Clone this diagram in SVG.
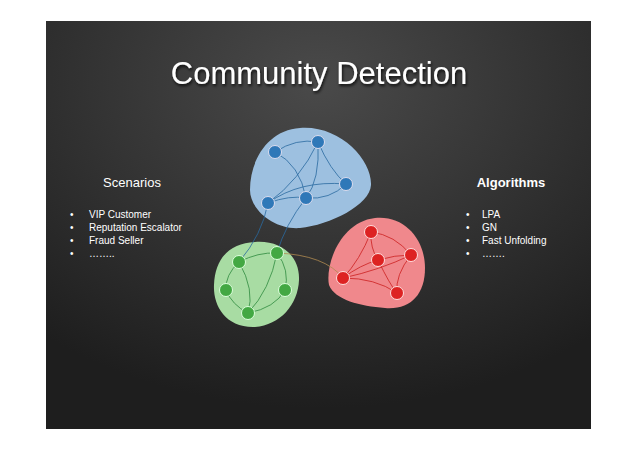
<svg xmlns="http://www.w3.org/2000/svg" width="638" height="451" viewBox="0 0 638 451">
<defs>
<radialGradient id="bg" cx="0.5" cy="0.15" r="0.8">
<stop offset="0" stop-color="#4a4a4a"/><stop offset="1" stop-color="#1e1e1e"/>
</radialGradient>
<filter id="sh"><feDropShadow dx="1" dy="2" stdDeviation="1.5" flood-color="#000" flood-opacity="0.8"/></filter>
</defs>
<style>
text{font-family:"Liberation Sans",Arial,sans-serif;fill:#fff}
.li{font-size:10px}
.b circle{fill:#2f78b8;stroke:#dde;stroke-width:1}
.g circle{fill:#43a843;stroke:#dfd;stroke-width:1}
.r circle{fill:#dd2222;stroke:#fdd;stroke-width:1}
#edges path{fill:none;stroke-width:0.8}
.eb{stroke:#2a6aa0}.eg{stroke:#2f8a3f}.er{stroke:#cc2020}
</style>
<rect width="638" height="451" fill="#fff"/>
<rect x="46" y="21" width="545" height="408" fill="url(#bg)"/>
<text x="319" y="84" font-size="31" text-anchor="middle" filter="url(#sh)">Community Detection</text>
<g id="scenarios">
<text x="132" y="187" font-size="13" text-anchor="middle">Scenarios</text>
<text class="li" x="70" y="218">•</text><text class="li" x="89" y="218">VIP Customer</text>
<text class="li" x="70" y="231">•</text><text class="li" x="89" y="231">Reputation Escalator</text>
<text class="li" x="70" y="244">•</text><text class="li" x="89" y="244">Fraud Seller</text>
<text class="li" x="70" y="257">•</text><text class="li" x="89" y="257">……..</text>
</g>
<g id="algorithms">
<text x="511" y="187" font-size="13" font-weight="bold" text-anchor="middle">Algorithms</text>
<text class="li" x="466" y="218">•</text><text class="li" x="482" y="218">LPA</text>
<text class="li" x="466" y="231">•</text><text class="li" x="482" y="231">GN</text>
<text class="li" x="466" y="244">•</text><text class="li" x="482" y="244">Fast Unfolding</text>
<text class="li" x="466" y="257">•</text><text class="li" x="482" y="257">…….</text>
</g>
<g id="blobs">
<path d="M300,128 C340,125 372,160 371,185 C370,205 330,225 300,228 C275,230 250,210 250,190 C250,160 268,130 300,128 Z" fill="#9dc0e0"/>
<path d="M255,242 C280,240 300,255 299,280 C298,305 280,325 255,327 C225,328 213,305 214,285 C215,258 230,243 255,242 Z" fill="#a8dca3"/>
<path d="M375,218 C405,215 425,240 425,268 C425,295 410,310 385,308 C360,306 335,300 329,285 C325,265 340,222 375,218 Z" fill="#f0888c"/>
</g>
<g id="edges">
<path class="eb" d="M275,152 Q296,138 318,142"/>
<path class="eb" d="M275,152 Q300,165 306,198"/>
<path class="eb" d="M318,142 Q300,180 268,203"/>
<path class="eb" d="M318,142 Q320,180 306,198"/>
<path class="eb" d="M318,142 Q330,170 346,184"/>
<path class="eb" d="M346,184 Q300,180 268,203"/>
<path class="eb" d="M346,184 Q330,200 306,198"/>
<path class="eb" d="M268,203 Q290,195 306,198"/>
<path class="eb" d="M268,203 Q262,235 239,262"/>
<path class="eb" d="M306,198 Q285,225 277,253"/>
<path class="eg" d="M239,262 Q258,252 277,253"/>
<path class="eg" d="M239,262 Q225,275 226,290"/>
<path class="eg" d="M239,262 Q255,290 248,313"/>
<path class="eg" d="M277,253 Q270,290 248,313"/>
<path class="eg" d="M277,253 Q290,270 285,290"/>
<path class="eg" d="M226,290 Q232,305 248,313"/>
<path class="eg" d="M285,290 Q275,308 248,313"/>
<path d="M277,253 Q325,255 343,278" stroke="#b08a50"/>
<path class="er" d="M371,232 Q395,235 411,255"/>
<path class="er" d="M371,232 Q370,248 378,260"/>
<path class="er" d="M371,232 Q360,260 343,278"/>
<path class="er" d="M378,260 Q395,255 411,255"/>
<path class="er" d="M378,260 Q390,285 397,293"/>
<path class="er" d="M343,278 Q360,265 378,260"/>
<path class="er" d="M343,278 Q380,270 411,255"/>
<path class="er" d="M343,278 Q375,278 397,293"/>
<path class="er" d="M411,255 Q395,275 397,293"/>
</g>
<g id="blue" class="b">
<circle id="b1" cx="275" cy="152" r="6.5"/><circle id="b2" cx="318" cy="142" r="6.5"/>
<circle id="b3" cx="346" cy="184" r="6.5"/><circle id="b4" cx="306" cy="198" r="6.5"/>
<circle id="b5" cx="268" cy="203" r="6.5"/>
</g>
<g id="green" class="g">
<circle id="g1" cx="239" cy="262" r="6.5"/><circle id="g2" cx="277" cy="253" r="6.5"/>
<circle id="g3" cx="226" cy="290" r="6.5"/><circle id="g4" cx="285" cy="290" r="6.5"/>
<circle id="g5" cx="248" cy="313" r="6.5"/>
</g>
<g id="red" class="r">
<circle id="r1" cx="371" cy="232" r="6.5"/><circle id="r2" cx="378" cy="260" r="6.5"/>
<circle id="r3" cx="411" cy="255" r="6.5"/><circle id="r4" cx="343" cy="278" r="6.5"/>
<circle id="r5" cx="397" cy="293" r="6.5"/>
</g>
</svg>
